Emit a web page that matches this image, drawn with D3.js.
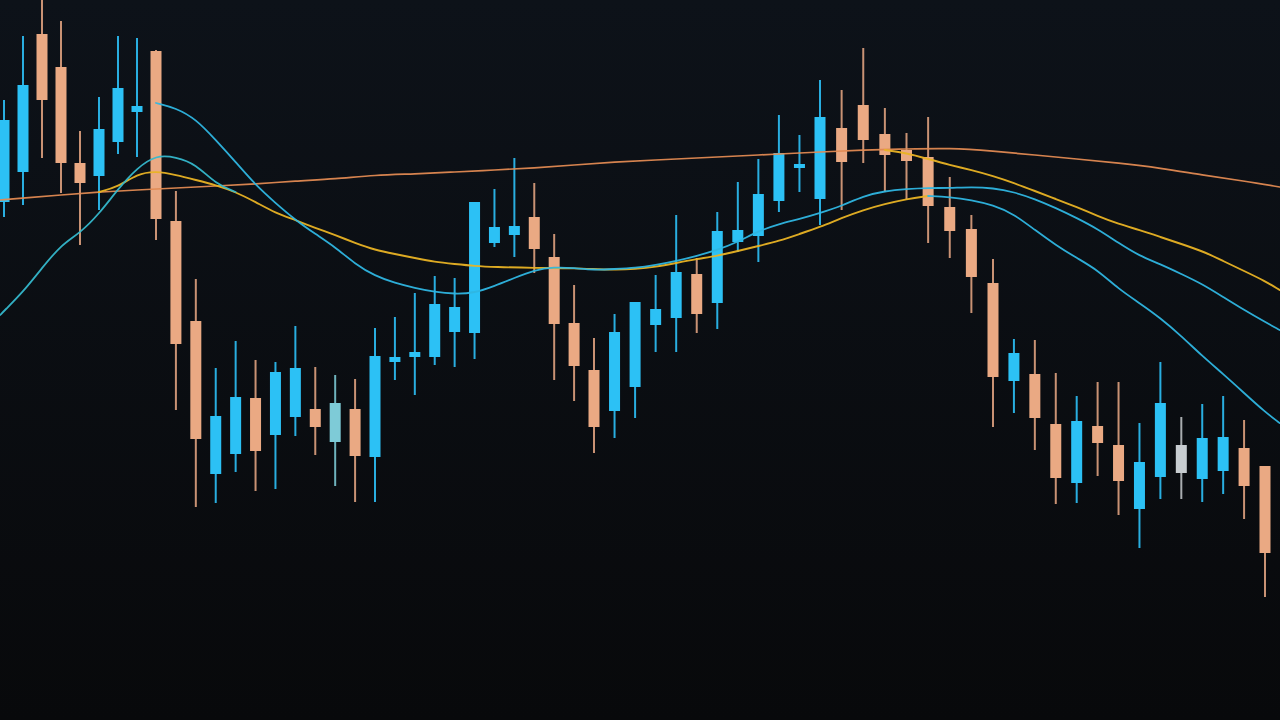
<!DOCTYPE html>
<html>
<head>
<meta charset="utf-8">
<script src="https://cdn.jsdelivr.net/npm/d3@7/dist/d3.min.js"></script>
<style>
  html, body { margin: 0; padding: 0; background: #0b0d11; overflow: hidden; }
  svg { display: block; }
</style>
</head>
<body>
<svg id="chart" width="1280" height="720"></svg>
<script>
// ---------- DATA ----------
const opens  = [151.8,154.8,168.6,165.3,155.7,154.4,157.8,160.8,166.9,149.9,139.9,124.6,126.6,132.2,128.5,130.3,131.1,127.8,131.1,126.3,
                135.8,136.3,136.3,138.8,138.7,147.7,148.5,150.3,146.3,139.7,135.0,130.9,133.3,139.5,140.2,144.6,141.7,147.8,148.4,151.9,
                155.2,152.1,159.2,161.5,158.6,157.0,156.3,151.3,149.1,143.7,133.9,134.6,129.6,123.7,129.4,127.5,121.1,124.3,124.7,124.1,
                124.9,127.2,125.4];
const highs  = [162.0,168.4,172.5,169.9,158.9,162.3,168.4,168.2,167.0,152.9,144.1,135.2,137.9,136.0,135.8,139.4,135.3,134.5,134.1,139.2,
                140.3,142.7,144.4,144.2,151.8,153.1,156.2,153.7,148.6,143.5,138.2,140.6,141.8,144.5,150.5,146.2,150.8,153.8,156.1,160.5,
                158.5,164.0,163.0,167.2,161.2,158.7,160.3,154.3,150.5,146.1,138.1,138.0,134.7,132.4,133.8,133.8,129.7,135.8,130.3,131.6,
                132.4,130.0,125.4];
const lows   = [150.3,151.5,156.2,152.7,147.5,151.0,156.6,156.3,148.0,131.0,121.3,121.7,124.8,122.9,123.1,128.4,126.5,123.4,121.8,121.8,
                134.0,132.5,135.5,135.3,136.1,147.3,146.3,144.7,134.0,131.9,126.7,128.2,130.2,136.8,136.8,138.7,139.1,146.8,145.8,150.8,
                152.8,149.5,151.0,155.7,152.8,152.0,147.7,146.2,140.7,129.3,130.7,127.0,121.6,121.7,124.4,120.5,117.2,122.1,122.1,121.8,
                122.6,120.1,112.3];
const closes = [160.0,163.5,162.0,155.7,153.7,159.1,163.2,161.4,150.1,137.6,128.1,130.4,132.3,126.9,134.8,135.2,129.3,131.7,126.4,136.4,
                136.3,136.8,141.6,141.3,151.8,149.3,149.4,147.1,139.6,135.4,129.3,138.8,141.8,141.1,144.8,140.6,148.9,149.0,152.6,156.7,
                155.6,160.3,155.8,158.0,156.5,155.9,151.4,148.9,144.3,134.3,136.7,130.2,124.2,129.9,127.7,123.9,125.8,131.7,127.5,128.2,
                128.3,123.4,116.7];

// moving-average lines: [candle index, value]
const maOrange = [[-0.2,152.0],[1,152.2],[3,152.5],[5,152.8],[7,153.0],[9,153.2],[11,153.4],[13,153.6],[15,153.9],[17,154.1],
                  [19,154.5],[21,154.6],[23,154.8],[25,155.0],[27,155.2],[29,155.5],[31,155.8],[33,156.0],[35,156.2],[37,156.4],
                  [39,156.6],[41,156.8],[43,157.0],[45,157.1],[47,157.2],[49,156.9],[51,156.5],[53,156.1],[55,155.7],[57,155.2],
                  [59,154.5],[61,153.9],[62.7,153.3]];
const maYellow = [[5,152.8],[6,153.3],[7,154.6],[8,154.9],[9,154.5],[10,154.0],[11,153.5],[12,152.8],[13,151.8],[14,150.7],
                  [15,150.0],[16,149.2],[17,148.5],[18,147.7],[19,147.0],[20,146.6],[21,146.2],[22,145.8],[23,145.6],[24,145.4],
                  [25,145.3],[27,145.2],[29,145.2],[31,145.0],[32,145.1],[33,145.3],[34,145.7],[35,146.1],[36,146.4],[37,146.9],
                  [38,147.4],[39,147.9],[40,148.6],[41,149.3],[42,150.2],[43,151.0],[44,151.6],[45,152.1],[46,152.4]];
const maYellowUpper = [[44,157.0],[45,156.7],[46,156.1],[47,155.5],[48,155.0],[49,154.4],[50,153.7],[51,152.9],[52,152.1],
                  [53,151.3],[54,150.4],[55,149.6],[56,149.0],[57,148.3],[58,147.6],[59,146.9],[60,145.9],[61,144.9],[62,143.9],[62.7,143.0]];
const maBlueA  = [[8,161.7],[9,161.2],[10,160.1],[11,158.0],[12,155.8],[13,153.5],[14,151.7],[15,150.0],[16,148.6],[17,147.3],
                  [18,145.6],[19,144.4],[20,143.7],[21,143.2],[22,142.8],[23,142.6],[24,142.7],[25,143.4],[26,144.2],[27,145.0],
                  [28,145.3],[29,145.2],[30,145.0],[31,145.1],[32,145.2],[33,145.5],[34,145.9],[35,146.4],[36,147.0],[37,147.8],
                  [38,148.9],[39,149.6],[40,150.1],[41,150.7],[42,151.4],[43,152.4],[44,152.9],[45,153.1],[46,153.2],[47,153.2],
                  [48,153.3],[49,153.2],[50,152.8],[51,152.1],[52,151.2],[53,150.2],[54,149.1],[55,147.7],[56,146.4],[57,145.6],
                  [58,144.6],[59,143.6],[60,142.3],[61,141.0],[62,139.8],[62.7,139.0]];
const maBlueB  = [[46,152.4],[47,152.3],[48,152.0],[49,151.5],[50,150.6],[51,149.0],[52,147.5],[53,146.2],[54,145.0],[55,143.1],
                  [56,141.7],[57,140.2],[58,138.4],[59,136.4],[60,134.6],[61,132.7],[62,130.8],[62.7,129.7]];
const maBlueC  = [[-0.2,140.5],[0,140.9],[1,142.8],[2,145.2],[3,147.5],[4,148.7],[5,150.6],[6,153.1],[7,155.2],[8,156.5],
                  [9,156.3],[10,155.6],[11,153.6],[12,152.8]];

// ---------- LAYOUT / STYLE ----------
const W = 1280, H = 720;
const candles = opens.map((o, i) => ({ i, o, h: highs[i], l: lows[i], c: closes[i] }));

const x = d3.scaleLinear().domain([0, 8, 30, 41, 49, 62]).range([4, 156, 594, 820, 993, 1265]);
const y = d3.scaleLinear().domain([100, 172]).range([H, 0]);

const UP = "#2cc1f5", DOWN = "#eaa983";
const UP_WICK = "#29aee0", DOWN_WICK = "#c99274";
const special = { 17: { body: "#7ecbd7", wick: "#6fb3bd" }, 58: { body: "#c8cdd1", wick: "#a9adb0" } };

const svg = d3.select("#chart");
const defs = svg.append("defs");
const grad = defs.append("linearGradient").attr("id", "bg").attr("x1", 0).attr("y1", 0).attr("x2", 0).attr("y2", 1);
grad.append("stop").attr("offset", "0%").attr("stop-color", "#0d1219");
grad.append("stop").attr("offset", "100%").attr("stop-color", "#08090b");
svg.append("rect").attr("width", W).attr("height", H).attr("fill", "url(#bg)");

const bodyW = 11;

// candles
const g = svg.append("g");
const cg = g.selectAll("g.candle").data(candles).join("g").attr("class", "candle");
cg.append("line")
  .attr("x1", d => x(d.i)).attr("x2", d => x(d.i))
  .attr("y1", d => y(d.h)).attr("y2", d => y(d.l))
  .attr("stroke", d => special[d.i] ? special[d.i].wick : (d.c >= d.o ? UP_WICK : DOWN_WICK))
  .attr("stroke-width", 2);
cg.append("rect")
  .attr("x", d => x(d.i) - bodyW / 2)
  .attr("width", bodyW)
  .attr("y", d => y(Math.max(d.o, d.c)))
  .attr("height", d => Math.max(3, Math.abs(y(d.o) - y(d.c))))
  .attr("fill", d => special[d.i] ? special[d.i].body : (d.c >= d.o ? UP : DOWN));

// moving-average lines
const line = d3.line().x(d => x(d[0])).y(d => y(d[1])).curve(d3.curveBasis);
const lines = [
  { data: maOrange, color: "#e28a52", w: 1.7 },
  { data: maYellow, color: "#e9b324", w: 1.9 },
  { data: maYellowUpper, color: "#e9b324", w: 1.9 },
  { data: maBlueA, color: "#2fb6e2", w: 1.8 },
  { data: maBlueB, color: "#2fb6e2", w: 1.8 },
  { data: maBlueC, color: "#35b8cc", w: 1.8 }
];
svg.append("g").selectAll("path").data(lines).join("path")
  .attr("d", d => line(d.data))
  .attr("fill", "none")
  .attr("stroke", d => d.color)
  .attr("stroke-width", d => d.w)
  .attr("stroke-opacity", 0.95)
  .attr("stroke-linejoin", "round")
  .attr("stroke-linecap", "round");
</script>
</body>
</html>
